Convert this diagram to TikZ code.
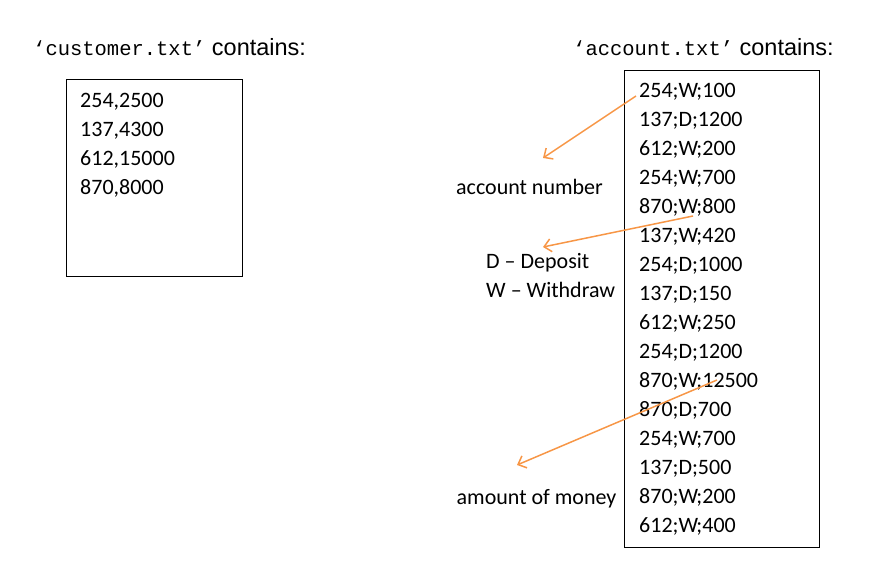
\documentclass[tikz,border=0pt]{standalone}
\usepackage{fontspec}
\setmainfont{Carlito}
\newfontfamily\arialf{Liberation Sans}
\newfontfamily\courf{Liberation Mono}
\usetikzlibrary{arrows.meta}
\definecolor{arrorange}{RGB}{247,150,70}
\tikzset{
  txt/.style={anchor=base west,inner sep=0pt,font=\fontsize{22}{26}\selectfont},
  ttl/.style={anchor=base west,inner sep=0pt},
  filebox/.style={draw=black,line width=0.8pt},
  ptr/.style={draw=arrorange,line width=1.5pt,-{Straight Barb[length=7pt,width=13pt,line width=1.5pt]}}
}
\begin{document}
\begin{tikzpicture}[x=1pt,y=-1pt]
\useasboundingbox (0,0) rectangle (870,573);
% titles
\node[ttl] (t1) at (33,55) {{\fontsize{20.5}{24}\courf ‘customer.txt’}{\fontsize{23.5}{24}\arialf\ contains:}};
\node[ttl] (t2) at (573,55) {{\fontsize{20.5}{24}\courf ‘account.txt’}{\fontsize{23.5}{24}\arialf\ contains:}};
% boxes
\draw[filebox] (66,79) rectangle (242,276);
\draw[filebox] (624,70) rectangle (819,547);
% customer lines
\foreach \t [count=\i from 0] in {254{,}2500,137{,}4300,612{,}15000,870{,}8000}
  \node[txt] (c\i) at (80,107.5+29*\i) {\t};
% account lines
\foreach \t [count=\i from 0] in {254;W;100,137;D;1200,612;W;200,254;W;700,870;W;800,137;W;420,254;D;1000,137;D;150,612;W;250,254;D;1200,870;W;12500,870;D;700,254;W;700,137;D;500,870;W;200,612;W;400}
  \node[txt] (a\i) at (639,97.5+29*\i) {\t};
% labels
\node[txt] (lacc) at (456,194.5) {account number};
\node[txt] (ld) at (486,268.5) {D – Deposit};
\node[txt] (lw) at (486,297.5) {W – Withdraw};
\node[txt] (lamt) at (456.5,504) {amount of money};
% arrows
\coordinate (s1) at (636,96);
\coordinate (e1) at (543,158);
\coordinate (s2) at (693,216);
\coordinate (e2) at (543,247);
\coordinate (s3) at (717,380);
\coordinate (e3) at (517,465);
\draw[ptr] (s1) -- (e1);
\draw[ptr] (s2) -- (e2);
\draw[ptr] (s3) -- (e3);
\end{tikzpicture}
\end{document}
